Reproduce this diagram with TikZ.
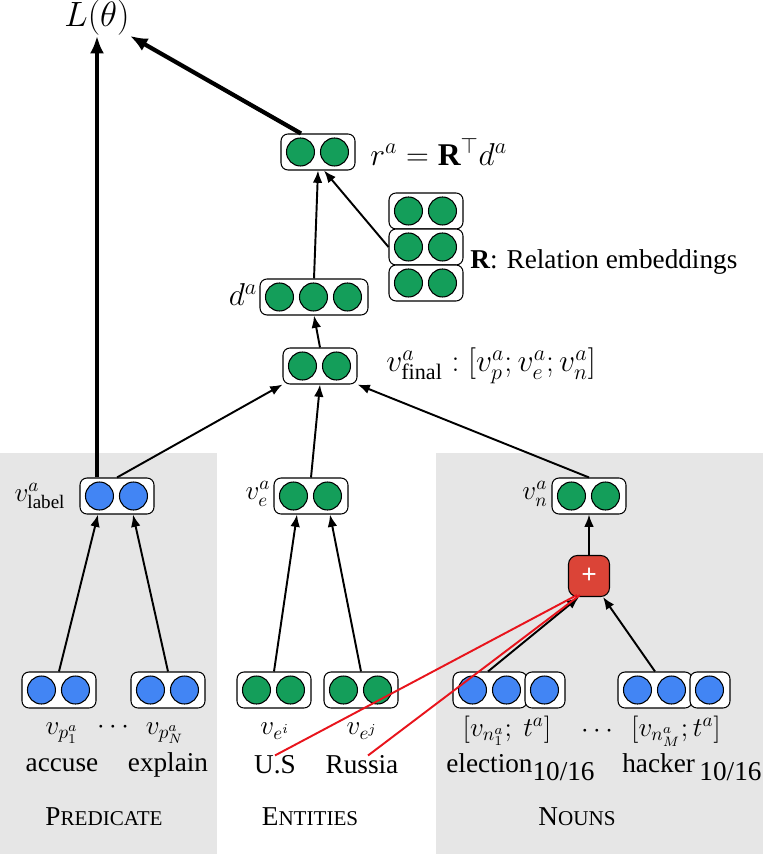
\RequirePackage{fix-cm}
\documentclass[tikz,border=0pt]{standalone}
\usepackage{fontspec}
\setmainfont{Liberation Serif}
\usetikzlibrary{arrows.meta,calc}
\definecolor{gbg}{HTML}{E6E6E6}
\definecolor{vgreen}{HTML}{149E5A}
\definecolor{vblue}{HTML}{4285F4}
\definecolor{vred}{HTML}{DB4437}
\definecolor{lred}{HTML}{E8141C}
\newcommand\vbx[5]{%
  \node[vbox, minimum width={(#4*34+6)*0.02cm}] (#1) at (#2,#3) {};
  \foreach \i in {1,...,#4} \node[dot,fill=#5] at ($(#1.west)+({(\i-0.5)*34+3},0)$) {};
}
\newcommand\fsc[2]{#1{\fontsize{12}{14}\selectfont #2}}
\begin{document}
\begin{tikzpicture}[x=0.02cm,y=-0.02cm,
  vbox/.style={draw,rounded corners=4pt,fill=white,minimum height=0.72cm,inner sep=0,line width=0.6pt},
  dot/.style={circle,draw,minimum size=0.56cm,inner sep=0,line width=0.6pt},
  arr/.style={-{Latex[length=7pt,width=5.5pt]},line width=1.1pt},
  tarr/.style={-{Latex[length=10pt,width=8pt]},line width=2.4pt},
  rl/.style={lred,line width=1.1pt},
  lab/.style={font=\fontsize{15.5}{18}\selectfont,inner sep=0},
  every node/.style={font=\fontsize{15.5}{18}\selectfont}]
\useasboundingbox (0,0) rectangle (763,854);
\fill[gbg] (0,453) rectangle (217,854);
\fill[gbg] (436,453) rectangle (763,854);

\node[lab,font=\fontsize{20}{24}\selectfont] (L) at (97,18) {$L(\theta)$};
\vbx{r}{318}{152}{2}{vgreen}
\node[lab,anchor=west,font=\fontsize{18}{22}\selectfont] (rl) at (370,152) {$r^a = \mathbf{R}^{\top} d^a$};
\vbx{R1}{426}{211}{2}{vgreen}
\vbx{R2}{426}{247}{2}{vgreen}
\vbx{R3}{426}{283}{2}{vgreen}
\node[lab,anchor=west] (Rl) at (470,262) {$\mathbf{R}$: Relation embeddings};
\vbx{d}{314}{297}{3}{vgreen}
\node[lab,font=\fontsize{18}{22}\selectfont] (dl) at (243,295) {$d^a$};
\vbx{fin}{320}{366}{2}{vgreen}
\node[lab,anchor=west,font=\fontsize{18}{22}\selectfont] (fl) at (386,366) {$v^a_{\mathrm{final}}:[v^a_p;v^a_e;v^a_n]$};

\vbx{vl}{117}{496}{2}{vblue}
\node[lab] (vll) at (40,496) {$v^a_{\mathrm{label}}$};
\vbx{ve}{311}{496}{2}{vgreen}
\node[lab] (vel) at (258,494) {$v^a_e$};
\vbx{vn}{589}{496}{2}{vgreen}
\node[lab] (vnl) at (535,494) {$v^a_n$};
\node[draw,fill=vred,rounded corners=5pt,minimum size=0.82cm,inner sep=0,line width=0.6pt,text=white] (plus) at (589,576) {\textbf{+}};

\vbx{p1}{59}{690}{2}{vblue}
\vbx{pN}{168}{690}{2}{vblue}
\vbx{e1}{274}{690}{2}{vgreen}
\vbx{e2}{361}{690}{2}{vgreen}
\vbx{n1}{490}{690}{2}{vblue}
\vbx{t1}{545}{690}{1}{vblue}
\vbx{nM}{655}{690}{2}{vblue}
\vbx{tM}{710}{690}{1}{vblue}

\node[lab] (p1l) at (62,733) {$v_{p^a_1}$};
\node[lab] (pdots) at (113,727) {$\cdots$};
\node[lab] (pNl) at (165,733) {$v_{p^a_N}$};
\node[lab] (acc) at (62,765) {accuse};
\node[lab] (exp) at (168,765) {explain};
\node[lab] (e1l) at (275,731) {$v_{e^i}$};
\node[lab] (e2l) at (362,731) {$v_{e^j}$};
\node[lab] (us) at (275,765) {U.S};
\node[lab] (ru) at (362,765) {Russia};
\node[lab] (n1l) at (507,731) {$[v_{n^a_1};\ t^a]$};
\node[lab] (ndots) at (597,731) {$\cdots$};
\node[lab] (nMl) at (676,731) {$[v_{n^a_M};t^a]$};
\node[lab,anchor=base west] (el) at (446,772) {election\raisebox{-5pt}{10/16}};
\node[lab,anchor=base west] (hk) at (622,772) {hacker\,\raisebox{-5pt}{10/16}};
\node[lab] (pred) at (104,817) {\fsc{P}{REDICATE}};
\node[lab] (ent) at (310,817) {\fsc{E}{NTITIES}};
\node[lab] (nou) at (577,817) {\fsc{N}{OUNS}};

\draw[tarr] ([xshift=-20*0.02cm]vl.north) -- (L.south);
\draw[tarr] ([xshift=-17*0.02cm]r.north) -- (L.south east);
\draw[arr] (d.north) -- (r.south);
\draw[arr] (R2.west) -- ([xshift=6*0.02cm]r.south);
\draw[arr] (fin.north) -- (d.south);
\draw[arr] (vl.north) -- (fin.south west);
\draw[arr] (ve.north) -- (fin.south);
\draw[arr] (vn.north) -- (fin.south east);
\draw[arr] (plus.north) -- (vn.south);
\draw[arr] ([xshift=-2*0.02cm]n1.north) -- ([xshift=-10*0.02cm]plus.south);
\draw[arr] (nM.north) -- ([xshift=14*0.02cm]plus.south);
\draw[arr] (p1.north) -- ([xshift=-19*0.02cm]vl.south);
\draw[arr] (pN.north) -- ([xshift=16*0.02cm]vl.south);
\draw[arr] (e1.north) -- ([xshift=-14*0.02cm]ve.south);
\draw[arr] (e2.north) -- ([xshift=19*0.02cm]ve.south);
\draw[rl] (us.north) -- ([xshift=-12*0.02cm,yshift=2*0.02cm]plus.south);
\draw[rl] ([xshift=6*0.02cm]ru.north) -- ([xshift=-9*0.02cm,yshift=2*0.02cm]plus.south);
\end{tikzpicture}
\end{document}
